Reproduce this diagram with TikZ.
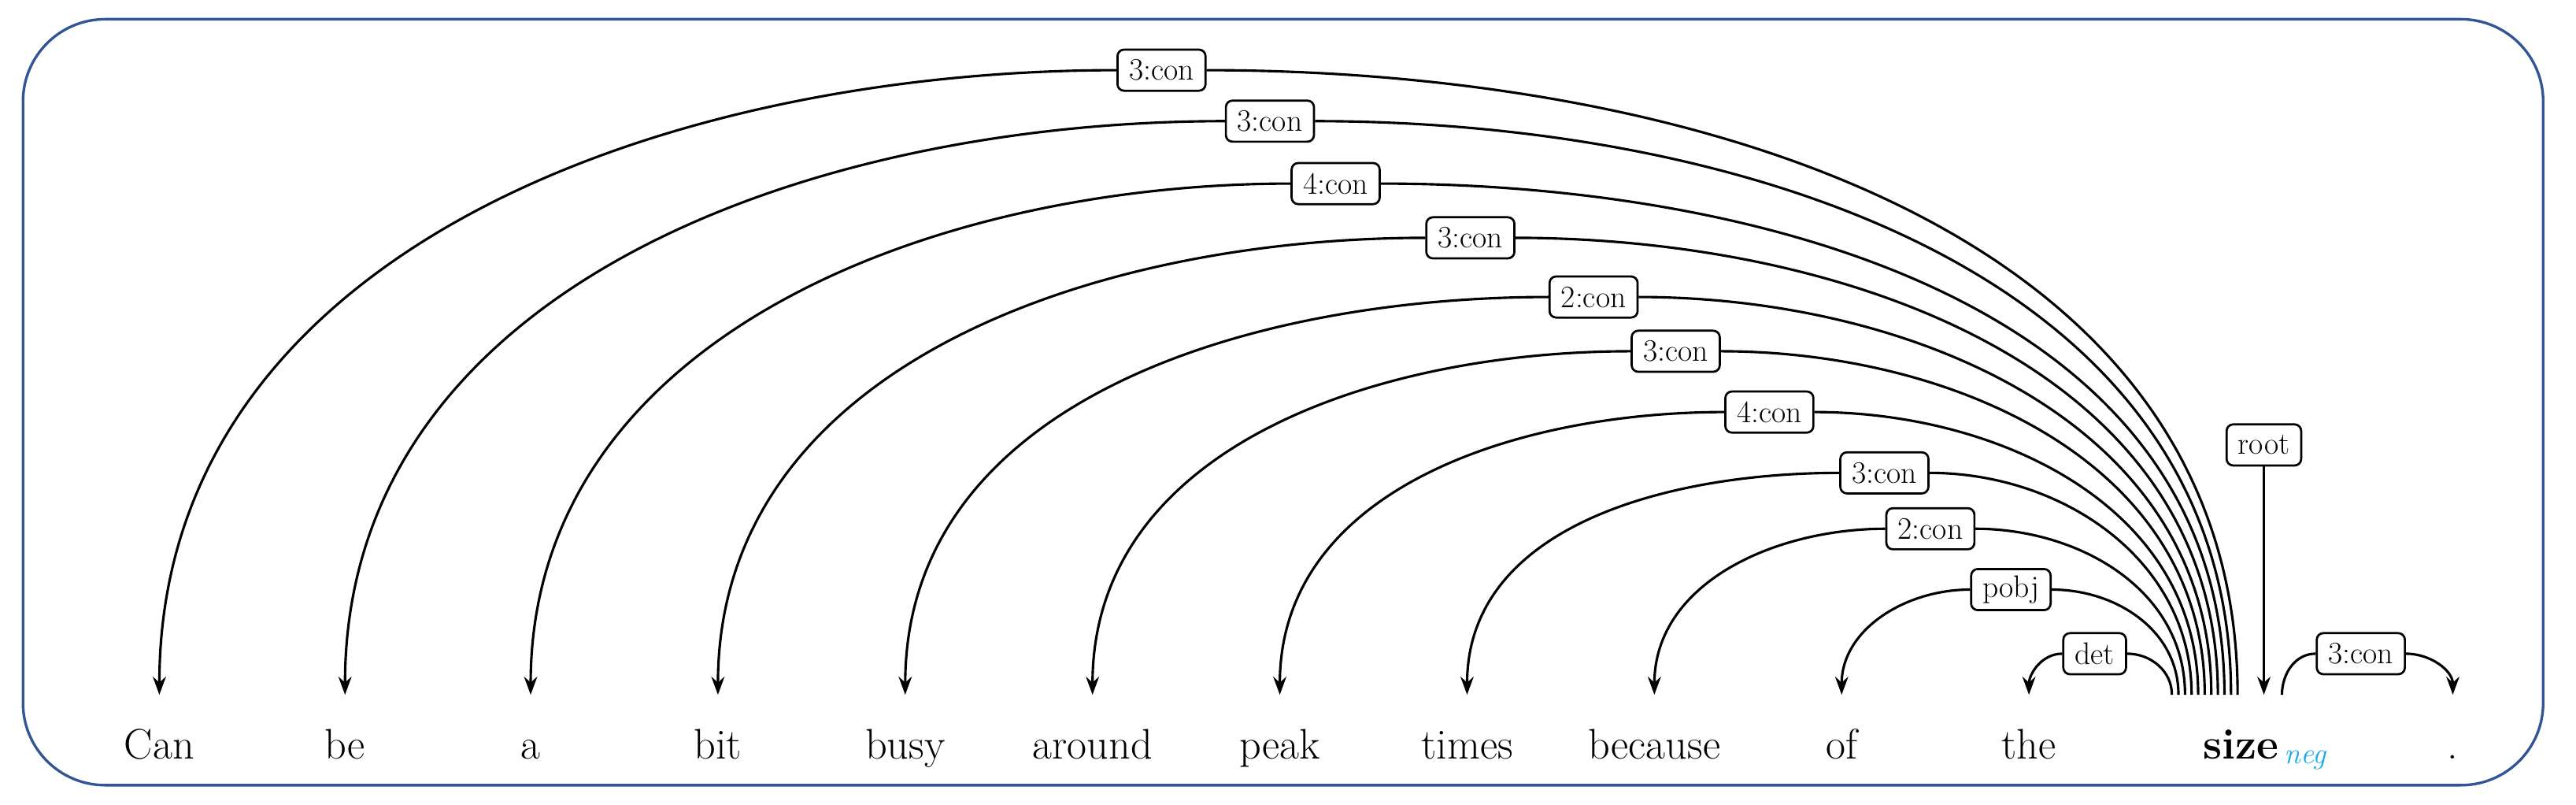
\documentclass[tikz,border=0pt]{standalone}
\usetikzlibrary{arrows.meta}
\definecolor{frameblue}{RGB}{50,85,150}
\definecolor{negblue}{RGB}{20,170,235}
\tikzset{
  word/.style={anchor=base,inner sep=0pt,font=\rmfamily\fontsize{26}{28}\selectfont},
  lab/.style={draw,rounded corners=4pt,line width=1.3pt,fill=white,font=\rmfamily\fontsize{19}{22}\selectfont,minimum height=25pt,inner xsep=7pt,inner ysep=2pt},
  arc/.style={line width=1.5pt},
  tip/.style={-{Stealth[length=11pt,width=8pt]}},
}
\begin{document}
\begin{tikzpicture}[x=1pt,y=1pt]
\useasboundingbox (0,0) rectangle (1568,489.7);
\draw[frameblue,line width=1.6pt,rounded corners=50pt] (14,12) rectangle (1548,478);
\foreach \n/\wx/\w in {1/97/Can,2/210/be,3/323/a,4/437/bit,5/551/busy,6/665/around,7/779/peak,8/893/times,9/1007/because,10/1121/of,11/1235/the,13/1493/.}{
  \node[word] (w\n) at (\wx,28) {\w};
  \coordinate (t\n) at (\wx,67);
}
\node[word] (w12) at (1364,28) {\bfseries size};
\node[anchor=base west,inner sep=0pt,font=\rmfamily\fontsize{18}{20}\selectfont\itshape,text=negblue] (neg) at ([xshift=3pt,yshift=-3pt]w12.base east) {neg};
\foreach \n/\lx/\ly/\t/\ex in {1/707/447/3:con/1362,2/773/416/3:con/1358,3/813/378/4:con/1354,4/895/345/3:con/1350,5/970/309/2:con/1346,6/1020/276/3:con/1342,7/1077/239/4:con/1338,8/1147/202/3:con/1334,9/1175/168/2:con/1330,10/1224/131/pobj/1326,11/1275/92/det/1322}{
  \node[lab] (l\n) at (\lx,\ly) {\t};
  \coordinate (e\n) at (\ex,67);
  \draw[arc] (e\n) to[out=90,in=0] (l\n.east);
  \draw[arc,tip] (l\n.west) to[out=180,in=90] (t\n);
}
% root
\node[lab] (root) at (1378,219) {root};
\coordinate (t12) at (1377,67);
\draw[arc,tip] (root.south) -- (root.south |- t12);
% right 3:con
\node[lab] (l13) at (1437,92) {3:con};
\coordinate (e13) at (1389,67);
\draw[arc] (e13) to[out=90,in=180] (l13.west);
\draw[arc,tip] (l13.east) to[out=0,in=90] (t13);
\end{tikzpicture}
\end{document}
